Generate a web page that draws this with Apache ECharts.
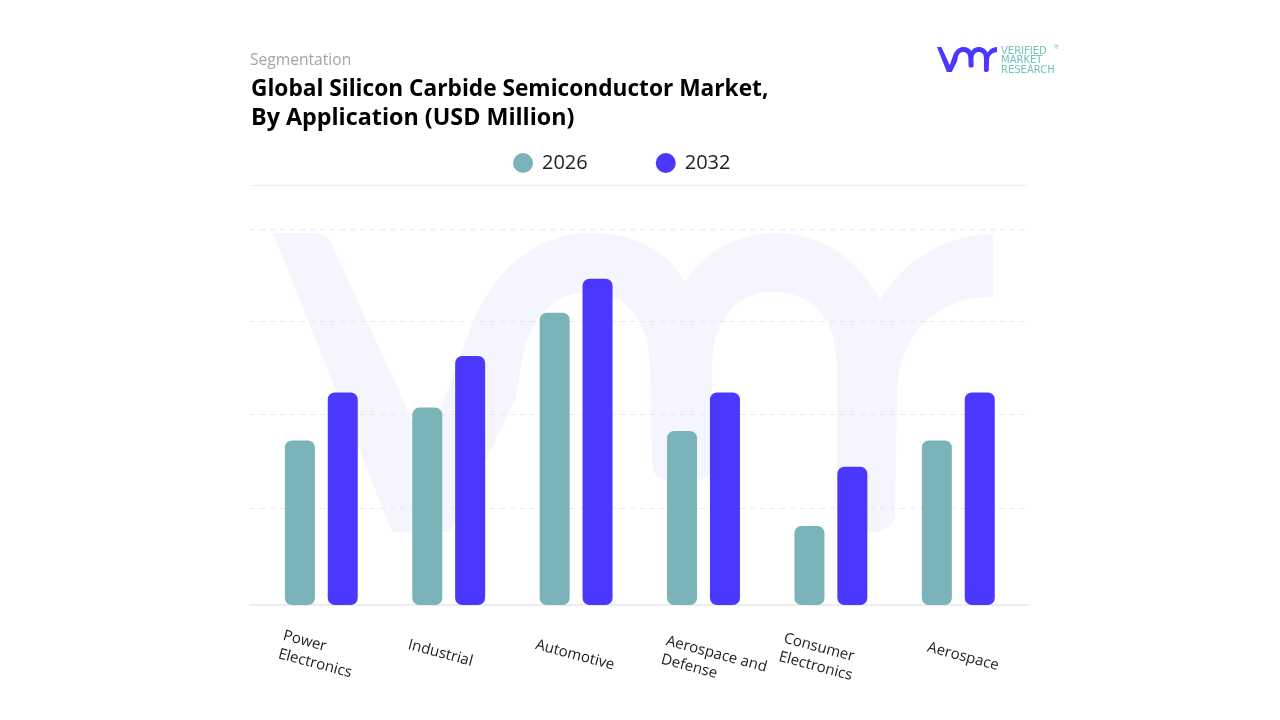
<!DOCTYPE html>
<html>
<head>
<meta charset="utf-8">
<title>Global Silicon Carbide Semiconductor Market</title>
<style>
  html, body { margin: 0; padding: 0; background: #fff; }
  #main { width: 1280px; height: 720px; }
</style>
<script src="https://cdn.jsdelivr.net/npm/echarts@6/dist/echarts.min.js"></script>
</head>
<body>
<div id="main"></div>
<script>
const categories = ['Power\nElectronics', 'Industrial', 'Automotive', 'Aerospace and\nDefense', 'Consumer\nElectronics', 'Aerospace'];
const legendNames = ['2026', '2032'];
const values2026 = [175, 210, 311, 185, 84, 175];
const values2032 = [226, 265, 347, 226, 147, 226];
const yTicks = [0, 103, 203, 302, 400];

const FONT = '"Open Sans", "Noto Sans", sans-serif';
const TEAL = '#7ab3b8';
const BLUE = '#4b38ff';

// labels in the picture are not quite centred under the bars, nudge each one
const labelPads = [[0, 0, 0, 10], [0, 0, 0, 10], [0, 0, 0, 10], [0, 0, 0, 12], [0, 0, 0, 2], [0, 0, 0, 20]];
const labelsPushedDown = ['Aerospace and\nDefense', 'Consumer\nElectronics'];

// vmr letter shape, used for the big watermark and again scaled down for the logo
const vmrPath = 'M273 233 L318 233 Q328 235 332 245 L403 400 L425 452 L473 321 C500 260 545 233 590 233 C640 233 670 255 685 282 C705 250 740 233 775 233 C825 233 860 262 880 300 C900 265 940 235 993 234 L993 297 C945 297 897 325 897 400 L895 515 Q893 532 870 532 L855 532 Q837 532 837 515 L837 370 C837 320 815 292 773 292 C735 292 712 320 712 370 L712 465 Q712 480 695 480 L670 480 Q652 480 652 462 L650 370 C650 320 625 292 590 292 C555 292 535 315 525 345 L515 400 L450 532 L392 532 Z';
echarts.graphic.registerShape('vmrShape', echarts.graphic.extendPath(vmrPath, {}));

const myChart = echarts.init(document.getElementById('main'));

const option = {
  animation: false,
  backgroundColor: '#fff',
  title: [
    { text: 'Segmentation', left: 245, top: 48, textStyle: { fontFamily: FONT, fontSize: 15.6, fontWeight: 400, color: '#a3a3ab' } },
    { text: 'Global Silicon Carbide Semiconductor Market,', left: 246, top: 70, textStyle: { fontFamily: FONT, fontSize: 22.7, fontWeight: 700, color: '#000', lineHeight: 29 } },
    { text: 'By Application (USD Million)', left: 246, top: 99, textStyle: { fontFamily: FONT, fontSize: 23.3, fontWeight: 700, color: '#000', lineHeight: 29 } }
  ],
  legend: {
    data: legendNames,
    top: 148,
    left: 508,
    icon: 'circle',
    itemWidth: 20,
    itemHeight: 20,
    itemGap: 68,
    textStyle: { fontFamily: FONT, fontSize: 20, color: '#222', padding: [0, 0, 0, 4] }
  },
  graphic: [
    { type: 'vmrShape', z: -10, silent: true, style: { fill: '#f5f6fd' } },
    { type: 'vmrShape', z: 10, silent: true, x: 914.25, y: 27.6, scaleX: 0.0833, scaleY: 0.0833, style: { fill: BLUE } },
    { type: 'text', z: 10, silent: true, x: 1001, y: 46.5, style: { text: 'VERIFIED\nMARKET\nRESEARCH', fontFamily: '"DejaVu Sans"', fontSize: 10, lineHeight: 9.5, fill: '#6fc2bd' } },
    { type: 'text', z: 10, silent: true, x: 1054, y: 44, style: { text: '®', fontFamily: FONT, fontSize: 6, fill: '#6fc2bd' } },
    { type: 'line', z: 1, silent: true, shape: { x1: 250, y1: 185.5, x2: 1028, y2: 185.5 }, style: { stroke: '#eeeef0', lineWidth: 1 } }
  ],
  grid: [
    { left: 257.6, width: 764.4, top: 229, height: 376 },
    { left: 250, width: 778, top: 229, height: 376 },
    { left: 207.6, width: 764.4, top: 229, height: 376 }
  ],
  xAxis: [
    {
      type: 'category', gridIndex: 0, data: categories,
      axisLine: { show: false }, axisTick: { show: false }, axisLabel: { show: false }
    },
    {
      type: 'category', gridIndex: 1, data: categories,
      axisLine: { show: true, lineStyle: { color: '#ececf1', width: 2 } }, axisTick: { show: false }, axisLabel: { show: false }
    },
    {
      // labels only, the grid sits left of the bars because they are anchored at their left end
      type: 'category', gridIndex: 2,
      data: categories.map((name, i) => ({ value: name, textStyle: { padding: labelPads[i] } })),
      axisLine: { show: false }, axisTick: { show: false },
      axisLabel: {
        rotate: -15, interval: 0, margin: 37, fontFamily: FONT, fontSize: 15, lineHeight: 19, color: '#222', align: 'left', verticalAlign: 'middle',
        formatter: (value) => {
          if (!labelsPushedDown.includes(value)) return value;
          // an empty short line on top moves the block down a few px
          return '{pad| }\n' + value.split('\n').map(line => '{t|' + line + '}').join('\n');
        },
        rich: {
          pad: { fontSize: 6, lineHeight: 10, height: 10 },
          t: { fontFamily: FONT, fontSize: 15, lineHeight: 19, color: '#222' }
        }
      }
    }
  ],
  yAxis: [
    { type: 'value', gridIndex: 0, min: 0, max: 400, interval: 100, axisLabel: { show: false }, axisLine: { show: false }, axisTick: { show: false }, splitLine: { show: false } },
    { type: 'value', gridIndex: 1, min: 0, max: 400, interval: 100, axisLabel: { show: false }, axisLine: { show: false }, axisTick: { show: false, customValues: yTicks }, splitLine: { show: true, lineStyle: { color: '#e8e8ec', type: [5, 5], width: 1 } } },
    { type: 'value', gridIndex: 2, min: 0, max: 400, interval: 100, axisLabel: { show: false }, axisLine: { show: false }, axisTick: { show: false }, splitLine: { show: false } }
  ],
  series: [
    { name: legendNames[0], type: 'bar', xAxisIndex: 0, yAxisIndex: 0, data: values2026, barWidth: 30, barGap: '43%', itemStyle: { color: TEAL, borderRadius: 7 } },
    { name: legendNames[1], type: 'bar', xAxisIndex: 0, yAxisIndex: 0, data: values2032, barWidth: 30, barGap: '43%', itemStyle: { color: BLUE, borderRadius: 7 } }
  ]
};

option && myChart.setOption(option);
</script>
</body>
</html>
